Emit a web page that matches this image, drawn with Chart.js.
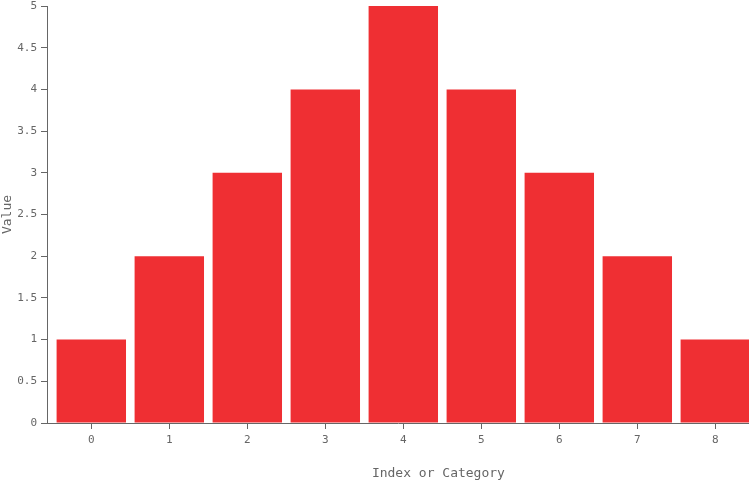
<!DOCTYPE html>
<html>
<head>
<meta charset="utf-8">
<script src="https://cdn.jsdelivr.net/npm/chart.js@4"></script>
<style>
  html, body { margin: 0; padding: 0; background: #fff; }
  #wrap { width: 749px; height: 482px; position: relative; }
</style>
</head>
<body>
<div id="wrap"><canvas id="barChart"></canvas></div>
<script>
// data
const categories = [0, 1, 2, 3, 4, 5, 6, 7, 8];
const values = [1, 2, 3, 4, 5, 4, 3, 2, 1];
const yTicks = [0, 0.5, 1, 1.5, 2, 2.5, 3, 3.5, 4, 4.5, 5];

const xTitle = 'Index or Category';
const yTitle = 'Value';

const barColor = 'rgb(239, 47, 51)';
const axisColor = '#666';
const textColor = '#666';
const fontFamily = '"DejaVu Sans Mono", "Liberation Mono", monospace';

// x range is a little wider than the bars, the last bar runs into the edge
const xMin = -0.568;
const xMax = 8.432;
const xTitleAt = 4.45;

const points = categories.map((c, i) => ({ x: c, y: values[i] }));

// axis title for x sits off-centre in the reference, draw it by hand
const xTitlePlugin = {
    id: 'xTitlePlugin',
    afterDraw(chart) {
        const ctx = chart.ctx;
        const x = chart.scales.x.getPixelForValue(xTitleAt);
        ctx.save();
        ctx.font = `13px ${fontFamily}`;
        ctx.fillStyle = textColor;
        ctx.textAlign = 'center';
        ctx.textBaseline = 'middle';
        ctx.fillText(xTitle, x, chart.height - 8);
        ctx.restore();
    }
};

const ctx = document.getElementById('barChart').getContext('2d');
const chart = new Chart(ctx, {
    type: 'bar',
    data: {
        datasets: [{
            label: yTitle,
            data: points,
            backgroundColor: barColor,
            borderWidth: 0,
            inflateAmount: 0,
            categoryPercentage: 1,
            barPercentage: 0.89
        }]
    },
    options: {
        responsive: true,
        maintainAspectRatio: false,
        animation: false,
        devicePixelRatio: 1,
        layout: { padding: { top: 6, right: 0, bottom: 0, left: 0 } },
        plugins: {
            legend: { display: false },
            tooltip: { enabled: false }
        },
        scales: {
            x: {
                type: 'linear',
                min: xMin,
                max: xMax,
                offset: false,
                grid: {
                    offset: false,
                    drawOnChartArea: false,
                    drawTicks: true,
                    tickLength: 6,
                    color: axisColor
                },
                border: { display: true, color: axisColor },
                afterBuildTicks(scale) {
                    scale.ticks = categories.map(v => ({ value: v }));
                },
                ticks: {
                    color: textColor,
                    padding: 5,
                    maxRotation: 0,
                    autoSkip: false,
                    callback: v => String(v),
                    font: { family: fontFamily, size: 11 }
                },
                afterFit(scale) { scale.height = 59; }
            },
            y: {
                min: 0,
                max: 5,
                grid: {
                    drawOnChartArea: false,
                    drawTicks: true,
                    tickLength: 6,
                    color: axisColor
                },
                border: { display: true, color: axisColor },
                afterBuildTicks(scale) {
                    scale.ticks = yTicks.map(v => ({ value: v }));
                },
                ticks: {
                    color: textColor,
                    padding: 4,
                    autoSkip: false,
                    callback: v => String(v),
                    font: { family: fontFamily, size: 11, lineHeight: 1 }
                },
                title: {
                    display: true,
                    text: yTitle,
                    color: textColor,
                    padding: { top: 0, bottom: 0 },
                    font: { family: fontFamily, size: 13 }
                },
                afterFit(scale) {
                    scale.width = 47;
                    scale.paddingTop = 0;
                }
            }
        }
    },
    plugins: [xTitlePlugin]
});
</script>
</body>
</html>
